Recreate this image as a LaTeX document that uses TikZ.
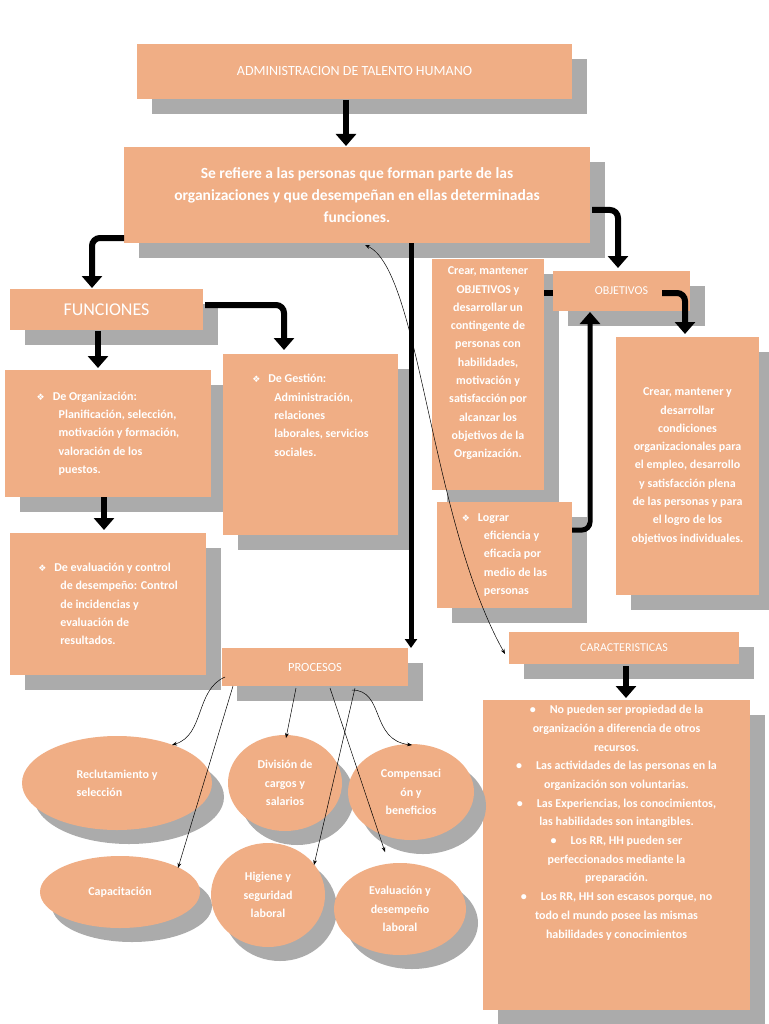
\documentclass[tikz,border=0pt]{standalone}
\usepackage{fontspec}
\setmainfont{Carlito}
\newfontfamily\djv{DejaVu Sans}
\usetikzlibrary{shadows,arrows.meta,shapes.geometric}
\definecolor{orng}{HTML}{F0AE85}
\definecolor{shd}{HTML}{ABABAB}
\newcommand{\dia}{{\djv\fontsize{9}{9}\selectfont ❖}}
\begin{document}
\begin{tikzpicture}[x=1pt,y=-1pt,
 bx/.style={fill=orng,draw=none,text=white,align=center,inner sep=3pt,
   drop shadow={shadow xshift=15pt,shadow yshift=-15pt,fill=shd,opacity=1}},
 el/.style={ellipse,fill=orng,text=white,align=center,inner sep=0pt,
   drop shadow={shadow xshift=12pt,shadow yshift=-14pt,fill=shd,opacity=1}},
 t/.style={font=\fontsize{12}{18.3}\selectfont\bfseries},
 big/.style={line width=6pt,-{Triangle[length=12pt,width=20pt]},rounded corners=8pt},
 thin/.style={-{Stealth[length=5pt]},line width=0.5pt}]
\useasboundingbox (0,0) rectangle (768,1024);
\fill[white] (0,0) rectangle (768,1024);
% boxes
\node[bx,minimum width=435,minimum height=55,font=\fontsize{14}{17}\selectfont] (title) at (354.5,71.5) {ADMINISTRACION DE TALENTO HUMANO};
\node[bx,minimum width=466,minimum height=96,font=\fontsize{15.5}{22}\selectfont\bfseries] (def) at (357,195) {Se refiere a las personas que forman parte de las\\organizaciones y que desempeñan en ellas determinadas\\funciones.};
\node[bx,minimum width=193,minimum height=41,font=\fontsize{18}{20}\selectfont] (fun) at (106.5,309.5) {FUNCIONES};
\node[bx,t,minimum width=206,minimum height=127,align=left] (org) at (108,433.5) {\dia\hspace{8pt}De Organización:\\\hspace{22pt}Planificación, selección,\\\hspace{22pt}motivación y formación,\\\hspace{22pt}valoración de los\\\hspace{22pt}puestos.};
\node[bx,t,minimum width=175,minimum height=181,align=left] (ges) at (310.5,444.5) {\dia\hspace{8pt}De Gestión:\\\hspace{22pt}Administración,\\\hspace{22pt}relaciones\\\hspace{22pt}laborales, servicios\\\hspace{22pt}sociales.\\[40pt]};
\node[bx,t,minimum width=196,minimum height=142,align=left] (eva) at (108,604) {\dia\hspace{8pt}De evaluación y control\\\hspace{22pt}de desempeño: Control\\\hspace{22pt}de incidencias y\\\hspace{22pt}evaluación de\\\hspace{22pt}resultados.};
\node[bx,minimum width=186,minimum height=38,font=\fontsize{12.5}{15}\selectfont] (pro) at (315,667) {PROCESOS};
\node[bx,t,minimum width=112,minimum height=231] (cm) at (488,374.5) {Crear, mantener\\OBJETIVOS y\\desarrollar un\\contingente de\\personas con\\habilidades,\\motivación y\\satisfacción por\\alcanzar los\\objetivos de la\\Organización.\\[6pt]};
\node[bx,minimum width=137,minimum height=40,font=\fontsize{12}{14}\selectfont] (obj) at (621.5,291) {OBJETIVOS};
\node[bx,t,minimum width=135,minimum height=106,align=left] (log) at (504.5,555) {\dia\hspace{8pt}Lograr\\\hspace{22pt}eficiencia y\\\hspace{22pt}eficacia por\\\hspace{22pt}medio de las\\\hspace{22pt}personas};
\node[bx,t,minimum width=143,minimum height=258] (cm2) at (687.5,466) {Crear, mantener y\\desarrollar\\condiciones\\organizacionales para\\el empleo, desarrollo\\y satisfacción plena\\de las personas y para\\el logro de los\\objetivos individuales.};
\node[bx,minimum width=230,minimum height=32,font=\fontsize{12}{14}\selectfont] (car) at (624,648) {CARACTERISTICAS};
\node[bx,t,minimum width=267,minimum height=310,font=\fontsize{12}{18.7}\selectfont\bfseries] (lst) at (616.5,855) {\textbullet\hspace{14pt}No pueden ser propiedad de la\\organización a diferencia de otros\\recursos.\\
\textbullet\hspace{14pt}Las actividades de las personas en la\\organización son voluntarias.\\
\textbullet\hspace{14pt}Las Experiencias, los conocimientos,\\las habilidades son intangibles.\\
\textbullet\hspace{14pt}Los RR, HH pueden ser\\perfeccionados mediante la\\preparación.\\
\textbullet\hspace{14pt}Los RR, HH son escasos porque, no\\todo el mundo posee las mismas\\habilidades y conocimientos\\[48pt]};
% ellipses
\node[el,t,minimum width=190,minimum height=94,align=left] (rec) at (117,783) {Reclutamiento y\\selección\hspace{3em}};
\node[el,t,minimum width=114,minimum height=96] (div) at (285,783) {División de\\cargos y\\salarios};
\node[el,t,minimum width=126,minimum height=96] (com) at (411,792) {Compensaci\\ón y\\beneficios};
\node[el,t,minimum width=160,minimum height=72] (cap) at (120,892) {Capacitación};
\node[el,t,minimum width=114,minimum height=104] (hig) at (268,895) {Higiene y\\seguridad\\laboral};
\node[el,t,minimum width=132,minimum height=92] (evl) at (400,909) {Evaluación y\\desempeño\\laboral};
% big arrows
\coordinate (a1) at (346,100); \coordinate (a2) at (346,146);
\draw[big] (a1) -- (a2);
\coordinate (b1) at (124,238); \coordinate (b2) at (92,288);
\draw[big] (b1) -| (b2);
\coordinate (c1) at (592,210); \coordinate (c2) at (618,268);
\draw[big] (c1) -| (c2);
\coordinate (d1) at (205,305); \coordinate (d2) at (284,350);
\draw[big] (d1) -| (d2);
\coordinate (e1) at (98,331); \coordinate (e2) at (98,368);
\draw[big] (e1) -- (e2);
\coordinate (f1) at (104,497); \coordinate (f2) at (104,530);
\draw[big] (f1) -- (f2);
\coordinate (g1) at (572,530); \coordinate (g2) at (590,312);
\draw[big,line width=5pt] (g1) -| (g2);
\coordinate (h1) at (662,293); \coordinate (h2) at (685,334);
\draw[big] (h1) -| (h2);
\coordinate (i1) at (626,666); \coordinate (i2) at (626,698);
\draw[big] (i1) -- (i2);
\coordinate (j1) at (544,293); \coordinate (j2) at (553,293);
\draw[line width=6pt] (j1) -- (j2);
\coordinate (k1) at (411,243); \coordinate (k2) at (411,648);
\draw[line width=5pt,-{Triangle[length=9pt,width=12pt]}] (k1) -- (k2);
% thin arrows
\coordinate (t1) at (365,245); \coordinate (t2) at (505,654);
\draw[thin,{Stealth[length=5pt]}-{Stealth[length=5pt]}] (t1) .. controls (420,270) and (430,520) .. (t2);
\coordinate (p1) at (225,677); \coordinate (q1) at (172,745);
\draw[thin] (p1) .. controls (195,690) and (205,735) .. (q1);
\coordinate (p2) at (233,686); \coordinate (q2) at (178,868); \draw[thin] (p2) -- (q2);
\coordinate (p3) at (296,688); \coordinate (q3) at (286,738); \draw[thin] (p3) -- (q3);
\coordinate (p4) at (330,688); \coordinate (q4) at (385,852); \draw[thin] (p4) -- (q4);
\coordinate (p5) at (355,688); \coordinate (q5) at (314,865); \draw[thin] (p5) -- (q5);
\coordinate (p6) at (352,690); \coordinate (q6) at (412,745);
\draw[thin] (p6) .. controls (385,690) and (370,740) .. (q6);
\end{tikzpicture}
\end{document}
